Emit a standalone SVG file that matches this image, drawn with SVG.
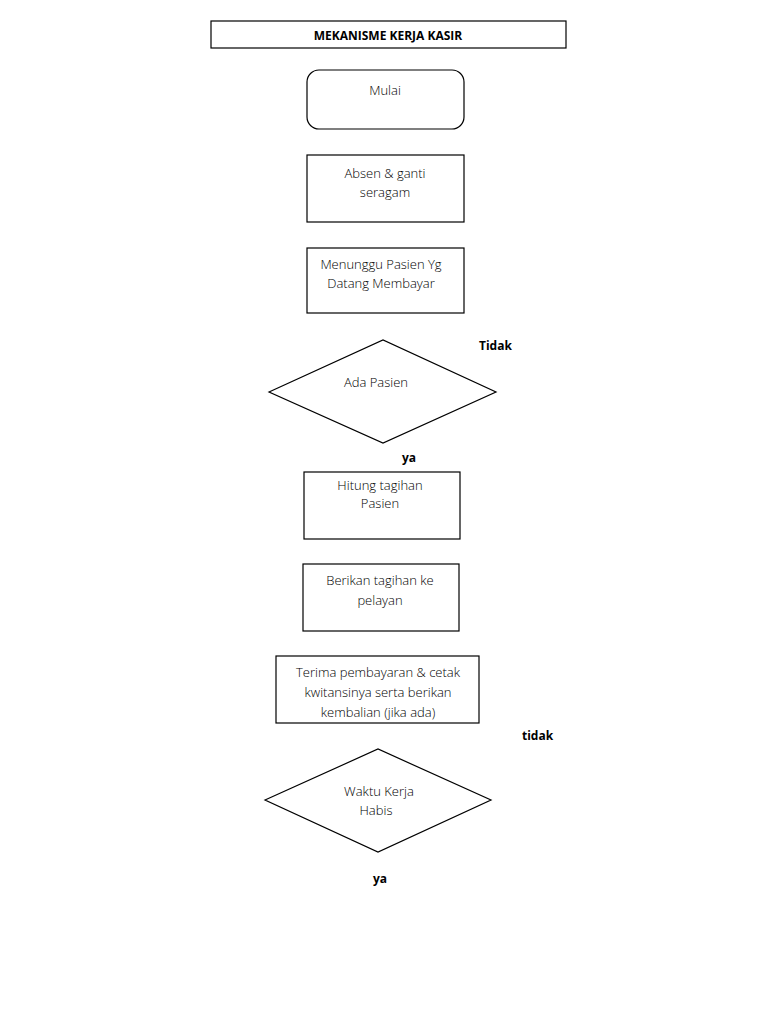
<svg xmlns="http://www.w3.org/2000/svg" width="768" height="1024" viewBox="0 0 768 1024">
<style>
.s{fill:#fff;stroke:#000;stroke-width:1.2}
.t{font-family:"Open Sans","Liberation Sans",sans-serif;font-size:13px;font-weight:300;text-anchor:middle;fill:#000}
.b{font-family:"Open Sans","Liberation Sans",sans-serif;font-size:12px;font-weight:bold;fill:#000}
</style>
<rect width="768" height="1024" fill="#fff"/>
<g id="title"><rect class="s" x="211" y="21" width="355" height="27" stroke-width="1.5"/><text class="b" x="388" y="40" text-anchor="middle" font-size="13">MEKANISME KERJA KASIR</text></g>
<g id="mulai"><rect class="s" x="307" y="70" width="157" height="59" rx="12"/><text class="t" x="385" y="95">Mulai</text></g>
<g id="absen"><rect class="s" x="307" y="155" width="157" height="67"/><text class="t" x="385" y="178">Absen &amp; ganti</text><text class="t" x="385" y="197">seragam</text></g>
<g id="menunggu"><rect class="s" x="307" y="248" width="157" height="65"/><text class="t" x="381" y="269">Menunggu Pasien Yg</text><text class="t" x="381" y="288">Datang Membayar</text></g>
<g id="ada"><polygon class="s" points="269,392 383,340 496,392 383,443"/><text class="t" x="376" y="387">Ada Pasien</text></g>
<g id="hitung"><rect class="s" x="304" y="472" width="156" height="67"/><text class="t" x="380" y="490">Hitung tagihan</text><text class="t" x="380" y="508">Pasien</text></g>
<g id="berikan"><rect class="s" x="303" y="564" width="156" height="67"/><text class="t" x="380" y="585">Berikan tagihan ke</text><text class="t" x="380" y="605">pelayan</text></g>
<g id="terima"><rect class="s" x="276" y="656" width="203" height="67"/><text class="t" x="378" y="677">Terima pembayaran &amp; cetak</text><text class="t" x="378" y="697">kwitansinya serta berikan</text><text class="t" x="378" y="717">kembalian (jika ada)</text></g>
<g id="waktu"><polygon class="s" points="265,800 378,749 491,800 378,852"/><text class="t" x="379" y="796">Waktu Kerja</text><text class="t" x="376" y="815">Habis</text></g>
<g id="labels">
<text class="b" x="479" y="350">Tidak</text>
<text class="b" x="402" y="462">ya</text>
<text class="b" x="522" y="740">tidak</text>
<text class="b" x="373" y="883">ya</text>
</g>
<g id="connectors"/>
</svg>
